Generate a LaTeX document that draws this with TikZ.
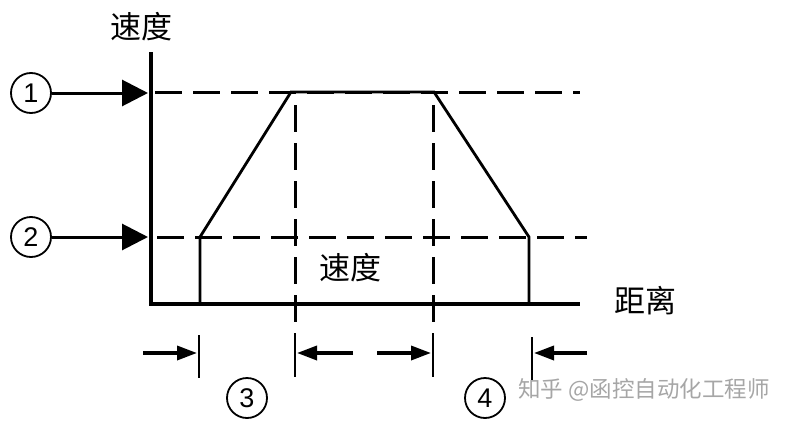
\documentclass[tikz,border=0pt]{standalone}
\usepackage{fontspec}
\setmainfont{Liberation Sans}
\newfontfamily\cjk{Noto Sans CJK SC}
\usetikzlibrary{arrows.meta,positioning}

\begin{document}
\begin{tikzpicture}[x=1pt,y=-1pt,
  num/.style={draw,circle,line width=1.8pt,minimum size=40pt,inner sep=0pt,
    font=\fontsize{27}{27}\selectfont},
  lbl/.style={inner sep=0pt,font=\cjk\fontsize{31}{31}\selectfont},
  dsh/.style={line width=3pt,dash pattern=on 27pt off 11pt},
  bigarrow/.style={line width=3pt,-{Triangle[length=26pt,width=26pt]}},
  dimarrow/.style={line width=3.5pt,-{Triangle[length=20pt,width=14pt]}},
  tickline/.style={line width=2.8pt}]
\useasboundingbox (0,0) rectangle (798,423);

% axes
\coordinate (o) at (151,304);
\coordinate (ytop) at (151,52);
\coordinate (xend) at (580,304);
\node[lbl] (vlabel) at (141,27) {速度};
\node[lbl] (dlabel) at (645,301) {距离};

% speed levels
\node[num] (n1) at (31,93) {1};
\node[num] (n2) at (31,237) {2};
\coordinate (a1) at (148,93);
\coordinate (a2) at (148,237);
\draw[bigarrow] (n1) -- (a1);
\draw[bigarrow] (n2) -- (a2);
\draw[dsh] (155,92) -- (580,92);
\draw[dsh] (157,237) -- (587,237);

% profile
\coordinate (p0) at (200,304);
\coordinate (p1) at (200,237);
\coordinate (p2) at (291,92);
\coordinate (p3) at (434,92);
\coordinate (p4) at (529,237);
\coordinate (p5) at (529,304);
\draw[line width=2.8pt,line join=miter] (p0) -- (p1) -- (p2) -- (p3) -- (p4) -- (p5);
\draw[line width=4.2pt] (ytop) -- (o) -- (xend);
\node[lbl] (mlabel) at (350,268) {速度};

% phase borders
\draw[dsh] (295,105) -- (295,322);
\draw[dsh] (433,105) -- (433,322);
\draw[tickline] (295,333) -- (295,377);
\draw[tickline] (433,333) -- (433,377);
\draw[tickline] (199,335) -- (199,378);
\draw[tickline] (532,337) -- (532,380);

% dimension arrows
\coordinate (d1) at (143,353);
\coordinate (d2) at (197,353);
\coordinate (d3) at (353,353);
\coordinate (d4) at (297,353);
\coordinate (d5) at (377,353);
\coordinate (d6) at (431,353);
\coordinate (d7) at (587,353);
\coordinate (d8) at (534,353);
\draw[dimarrow] (d1) -- (d2);
\draw[dimarrow] (d3) -- (d4);
\draw[dimarrow] (d5) -- (d6);
\draw[dimarrow] (d7) -- (d8);
\node[num] (n3) at (247,398) {3};
\node[num] (n4) at (485,398) {4};

\node[text=black!35,inner sep=0pt,font=\cjk\fontsize{22.5}{22.5}\selectfont] (wm) at (644,390) {知乎 @函控自动化工程师};
\end{tikzpicture}
\end{document}
